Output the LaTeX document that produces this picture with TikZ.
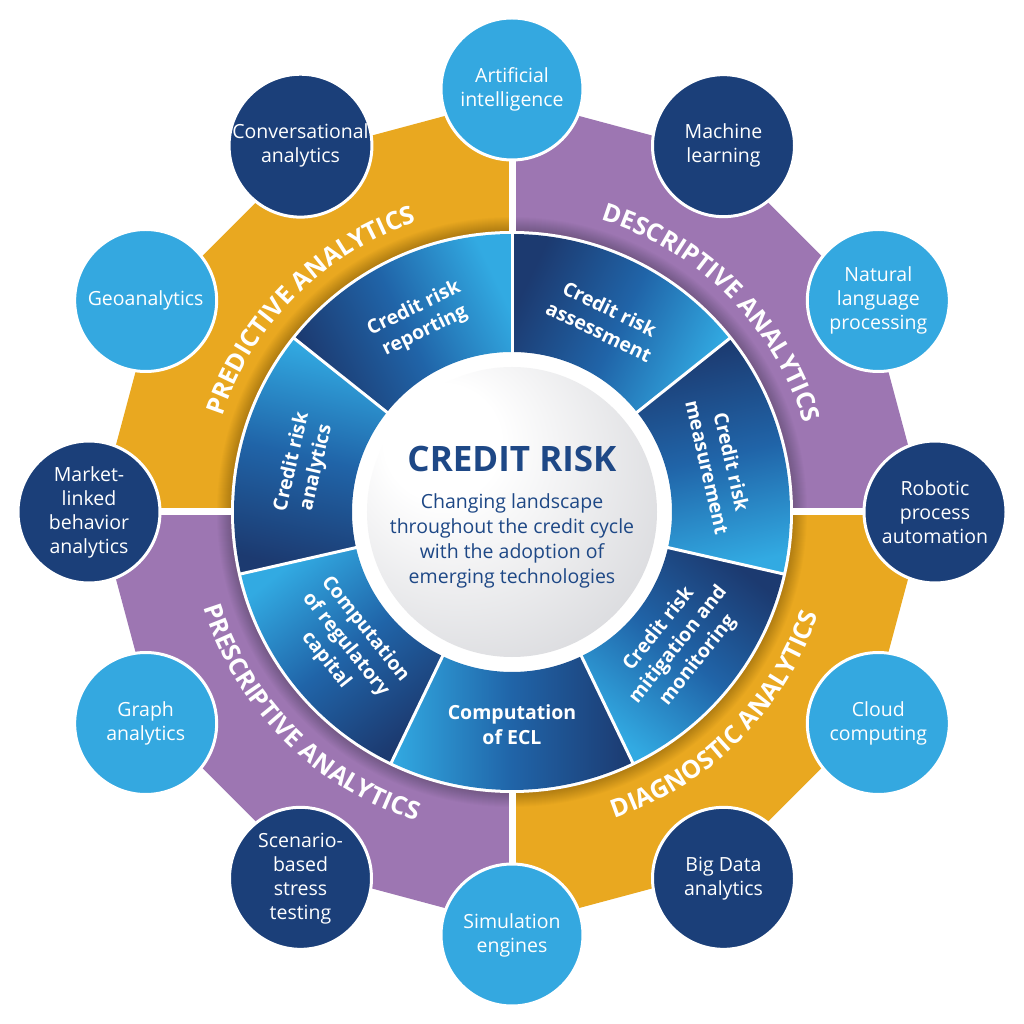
\documentclass[tikz,border=0pt]{standalone}
\usepackage{fontspec}
\setmainfont{Open Sans}
\usetikzlibrary{decorations.text}
\definecolor{orangeQ}{RGB}{233,168,32}
\definecolor{purpleQ}{RGB}{157,118,178}
\definecolor{lightC}{RGB}{52,168,224}
\definecolor{darkC}{RGB}{27,63,121}
\definecolor{segDark}{RGB}{28,58,112}
\definecolor{segMid}{RGB}{32,100,168}
\definecolor{segLight}{RGB}{50,170,226}
\definecolor{navyT}{RGB}{30,72,134}
\definecolor{discGray}{RGB}{200,201,206}
\definecolor{discEdge}{RGB}{182,183,190}
\pgfdeclareradialshading{discshade}{\pgfpoint{-14bp}{14bp}}{color(0bp)=(white); color(10bp)=(white); color(50bp)=(discGray); color(72bp)=(discEdge)}
\newcommand\quadfont{\bfseries\fontsize{25}{30}\selectfont}
\begin{document}
\begin{tikzpicture}[x=1pt,y=1pt,
  techcircle/.style={circle, draw=white, line width=3pt, minimum size=142pt, inner sep=0pt, align=center, text=white, font=\fontsize{19.5}{24}\selectfont},
  lightcirc/.style={techcircle, fill=lightC},
  darkcirc/.style={techcircle, fill=darkC},
  segtext/.style={align=center, text=white, font=\bfseries\fontsize{19.5}{25}\selectfont, inner sep=0pt},
  gapline/.style={white, line width=7pt},
  sepline/.style={white, line width=3pt},
  quadlabel/.style={decorate, decoration={text along path, text align=center, text color=white, text={|\quadfont|#1}}}
]
\fill[white] (-512,-512) rectangle (512,512);
\useasboundingbox (-512,-512) rectangle (512,512);
% quadrant ring (dodecagon)
\fill[orangeQ] (0,0) -- (90:414) -- (120:414) -- (150:414) -- (180:414) -- cycle;
\fill[purpleQ] (0,0) -- (0:414) -- (30:414) -- (60:414) -- (90:414) -- cycle;
\fill[orangeQ] (0,0) -- (-90:414) -- (-60:414) -- (-30:414) -- (0:414) -- cycle;
\fill[purpleQ] (0,0) -- (180:414) -- (210:414) -- (240:414) -- (270:414) -- cycle;
% soft shadow along inner edge
\begin{scope}
  \clip (0:414) \foreach \k in {1,...,11} { -- (\k*30:414) } -- cycle;
  \foreach \w in {2,4,...,28} { \draw[black, opacity=0.016, line width=\w pt] (0,0) circle (281); }
\end{scope}
% quadrant gaps
\draw[gapline] (0,281) -- (0,420);
\draw[gapline] (0,-281) -- (0,-420);
\draw[gapline] (281,0) -- (420,0);
\draw[gapline] (-281,0) -- (-420,0);
% segment ring
\fill[white] (0,0) circle (281);
\foreach \a/\txt/\nm in {90/Credit risk\\assessment/segA, 38.5714/Credit risk\\measurement/segB, -12.8571/Credit risk\\mitigation and\\monitoring/segC, -64.2857/Computation\\of ECL/segD, -115.7143/Computation\\of regulatory\\capital/segE, 192.8571/Credit risk\\analytics/segF, 141.4286/Credit risk\\reporting/segG}{
  \pgfmathsetmacro\b{\a-51.4286}
  \pgfmathsetmacro\m{\a-25.7143}
  \pgfmathsetmacro\rot{\m>0 ? \m-90 : \m+90}
  \shade[top color=segDark, bottom color=segLight, middle color=segMid, shading angle=\m] (\a:278) arc[start angle=\a, end angle=\b, radius=278] -- (\b:160) arc[start angle=\b, end angle=\a, radius=160] -- cycle;
  \node[segtext, rotate=\rot] (\nm) at (\m:213) {\txt};
}
\foreach \a in {90, 38.5714, -12.8571, -64.2857, -115.7143, -167.1429, 141.4286}{
  \draw[sepline] (\a:155) -- (\a:280);
}
% centre disc
\shade[shading=discshade] (0,0) circle (145);
\node[text=navyT, font=\bfseries\fontsize{35}{40}\selectfont, inner sep=0pt] (title) at (0,52.5) {CREDIT RISK};
\node[text=navyT, font=\fontsize{19.5}{25}\selectfont, align=center, inner sep=0pt, anchor=north] (sub) at (0,19) {Changing landscape\\throughout the credit cycle\\with the adoption of\\emerging technologies};
% quadrant labels
\path[quadlabel={PREDICTIVE ANALYTICS}] (178:305) arc[start angle=178, end angle=92, radius=305];
\path[quadlabel={DESCRIPTIVE ANALYTICS}] (88:305) arc[start angle=88, end angle=2, radius=305];
\path[quadlabel={DIAGNOSTIC ANALYTICS}] (-88:323) arc[start angle=-88, end angle=-2, radius=323];
\path[quadlabel={PRESCRIPTIVE ANALYTICS}] (-178:323) arc[start angle=-178, end angle=-92, radius=323];
% technology circles
\node[lightcirc] (ai) at (90:423) {Artificial\\intelligence};
\node[darkcirc] (ml) at (60:423) {Machine\\learning};
\node[lightcirc] (nlp) at (30:423) {Natural\\language\\processing};
\node[darkcirc] (rpa) at (0:423) {Robotic\\process\\automation};
\node[lightcirc] (cloud) at (-30:423) {Cloud\\computing};
\node[darkcirc] (bigdata) at (-60:423) {Big Data\\analytics};
\node[lightcirc] (sim) at (-90:423) {Simulation\\engines};
\node[darkcirc] (scen) at (-120:423) {Scenario-\\based\\stress\\testing};
\node[lightcirc] (graph) at (-150:423) {Graph\\analytics};
\node[darkcirc] (market) at (180:423) {Market-\\linked\\behavior\\analytics};
\node[lightcirc] (geo) at (150:423) {Geoanalytics};
\node[darkcirc] (conv) at (120:423) {Conversational\\analytics};
\end{tikzpicture}
\end{document}
